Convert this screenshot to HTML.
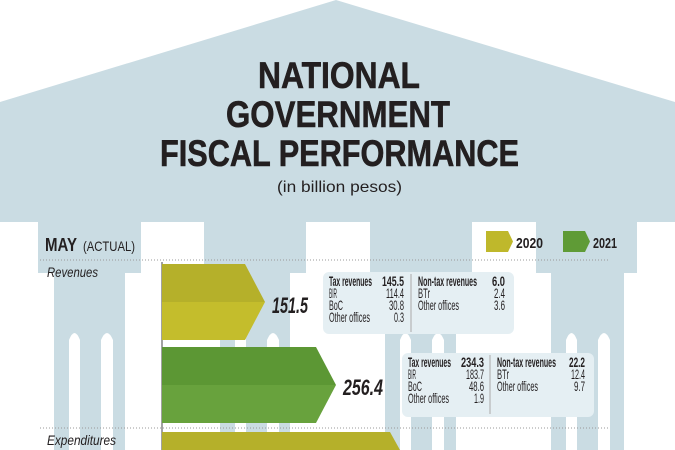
<!DOCTYPE html>
<html><head><meta charset="utf-8"><style>
html,body{margin:0;padding:0;background:#fff;}
svg{display:block;}
text{font-family:"Liberation Sans",sans-serif;fill:#231f20;}
.t{font-weight:bold;font-size:37px;}
.s{font-size:14px;}
.b{font-weight:bold;}
</style></head><body>
<svg width="675" height="450" viewBox="0 0 675 450" xmlns="http://www.w3.org/2000/svg">
<rect width="675" height="450" fill="#fff"/>
<g fill="#cadce3">
<polygon points="0,102 336,0 675,102 675,222 0,222"/>
<rect x="38" y="222" width="103" height="51"/>
<rect x="204" y="222" width="102" height="51"/>
<rect x="370" y="222" width="102" height="51"/>
<rect x="536" y="222" width="101" height="51"/>
<rect x="54" y="273" width="71" height="177"/>
<rect x="220" y="273" width="70" height="177"/>
<rect x="385" y="273" width="71" height="177"/>
<rect x="551" y="273" width="73" height="177"/>
</g>
<g fill="#fff">
<path d="M69,450 V340 Q74.5,326 80,340 V450Z"/>
<path d="M101,450 V340 Q107,326 113,340 V450Z"/>
<path d="M235,450 V340 Q240.5,326 246,340 V450Z"/>
<path d="M267,450 V340 Q273,326 279,340 V450Z"/>
<path d="M400,450 V340 Q405.5,326 411,340 V450Z"/>
<path d="M432,450 V340 Q438,326 444,340 V450Z"/>
<path d="M566,450 V340 Q571.5,326 577,340 V450Z"/>
<path d="M598,450 V340 Q604,326 610,340 V450Z"/>
</g>
<g style="stroke:#231f20;stroke-width:0.6">
<text class="t" x="258" y="88" textLength="162" lengthAdjust="spacingAndGlyphs">NATIONAL</text>
<text class="t" x="226" y="127" textLength="224" lengthAdjust="spacingAndGlyphs">GOVERNMENT</text>
<text class="t" x="160" y="166" textLength="359" lengthAdjust="spacingAndGlyphs">FISCAL PERFORMANCE</text>
</g>
<text x="277" y="192" style="font-size:16px" textLength="125" lengthAdjust="spacingAndGlyphs">(in billion pesos)</text>
<text x="45" y="251" class="b" style="font-size:18px" textLength="32" lengthAdjust="spacingAndGlyphs">MAY</text>
<text x="83" y="251" style="font-size:14px" textLength="52" lengthAdjust="spacingAndGlyphs">(ACTUAL)</text>
<line x1="40" y1="260" x2="608" y2="260" stroke="#999" stroke-dasharray="1,2"/>
<line x1="40" y1="428" x2="608" y2="428" stroke="#999" stroke-dasharray="1,2"/>
<text x="47" y="277" style="font-style:italic;font-size:14px" textLength="51" lengthAdjust="spacingAndGlyphs">Revenues</text>
<text x="47" y="445" style="font-style:italic;font-size:14px" textLength="69" lengthAdjust="spacingAndGlyphs">Expenditures</text>
<polygon points="486,231 508,231 513,241.5 508,252 486,252" fill="#bfb82b"/>
<polygon points="563,231 585,231 590,241.5 585,252 563,252" fill="#5f9b36"/>
<text x="516" y="248" class="b" style="font-size:15px" textLength="27" lengthAdjust="spacingAndGlyphs">2020</text>
<text x="593" y="248" class="b" style="font-size:15px" textLength="24" lengthAdjust="spacingAndGlyphs">2021</text>
<line x1="162" y1="262" x2="162" y2="450" stroke="#444" stroke-width="1"/>
<polygon points="162,264 245,264 265,302 162,302" fill="#b5b02a"/>
<polygon points="162,302 265,302 245,340 162,340" fill="#c4bd2c"/>
<polygon points="162,347 316,347 336,385 162,385" fill="#5c9734"/>
<polygon points="162,385 336,385 316,423 162,423" fill="#68a23d"/>
<polygon points="162,432 390,432 400,450 162,450" fill="#b5b02a"/>
<text x="272" y="313" class="b" style="font-style:italic;font-size:22px" textLength="36" lengthAdjust="spacingAndGlyphs">151.5</text>
<text x="343" y="395" class="b" style="font-style:italic;font-size:22px" textLength="40" lengthAdjust="spacingAndGlyphs">256.4</text>
<rect x="323" y="272" width="191" height="62" rx="6" fill="#e5eff3"/>
<rect x="402" y="353" width="192" height="64" rx="6" fill="#e5eff3"/>
<g>
<line x1="411" y1="274" x2="411" y2="332" stroke="#aaa"/>
<text x="329" y="286" class="b s" textLength="43" lengthAdjust="spacingAndGlyphs">Tax revenues</text><text x="382" y="286" class="b s" textLength="22" lengthAdjust="spacingAndGlyphs">145.5</text>
<text x="329" y="298" class="s" textLength="8" lengthAdjust="spacingAndGlyphs">BIR</text><text x="386" y="298" class="s" textLength="18" lengthAdjust="spacingAndGlyphs">114.4</text>
<text x="329" y="310" class="s" textLength="14" lengthAdjust="spacingAndGlyphs">BoC</text><text x="389" y="310" class="s" textLength="15" lengthAdjust="spacingAndGlyphs">30.8</text>
<text x="329" y="322" class="s" textLength="41" lengthAdjust="spacingAndGlyphs">Other offices</text><text x="394" y="322" class="s" textLength="10" lengthAdjust="spacingAndGlyphs">0.3</text>
<text x="418" y="286" class="b s" textLength="59" lengthAdjust="spacingAndGlyphs">Non-tax revenues</text><text x="492" y="286" class="b s" textLength="13" lengthAdjust="spacingAndGlyphs">6.0</text>
<text x="418" y="298" class="s" textLength="12" lengthAdjust="spacingAndGlyphs">BTr</text><text x="494" y="298" class="s" textLength="11" lengthAdjust="spacingAndGlyphs">2.4</text>
<text x="418" y="310" class="s" textLength="41" lengthAdjust="spacingAndGlyphs">Other offices</text><text x="494" y="310" class="s" textLength="11" lengthAdjust="spacingAndGlyphs">3.6</text>
<line x1="490" y1="355" x2="490" y2="414" stroke="#aaa"/>
<text x="408" y="367" class="b s" textLength="43" lengthAdjust="spacingAndGlyphs">Tax revenues</text><text x="461" y="367" class="b s" textLength="23" lengthAdjust="spacingAndGlyphs">234.3</text>
<text x="408" y="379" class="s" textLength="8" lengthAdjust="spacingAndGlyphs">BIR</text><text x="466" y="379" class="s" textLength="18" lengthAdjust="spacingAndGlyphs">183.7</text>
<text x="408" y="391" class="s" textLength="14" lengthAdjust="spacingAndGlyphs">BoC</text><text x="469" y="391" class="s" textLength="15" lengthAdjust="spacingAndGlyphs">48.6</text>
<text x="408" y="403" class="s" textLength="41" lengthAdjust="spacingAndGlyphs">Other offices</text><text x="474" y="403" class="s" textLength="10" lengthAdjust="spacingAndGlyphs">1.9</text>
<text x="497" y="367" class="b s" textLength="59" lengthAdjust="spacingAndGlyphs">Non-tax revenues</text><text x="569" y="367" class="b s" textLength="16" lengthAdjust="spacingAndGlyphs">22.2</text>
<text x="497" y="379" class="s" textLength="12" lengthAdjust="spacingAndGlyphs">BTr</text><text x="571" y="379" class="s" textLength="14" lengthAdjust="spacingAndGlyphs">12.4</text>
<text x="497" y="391" class="s" textLength="41" lengthAdjust="spacingAndGlyphs">Other offices</text><text x="574" y="391" class="s" textLength="11" lengthAdjust="spacingAndGlyphs">9.7</text>
</g>
</svg>
</body></html>
